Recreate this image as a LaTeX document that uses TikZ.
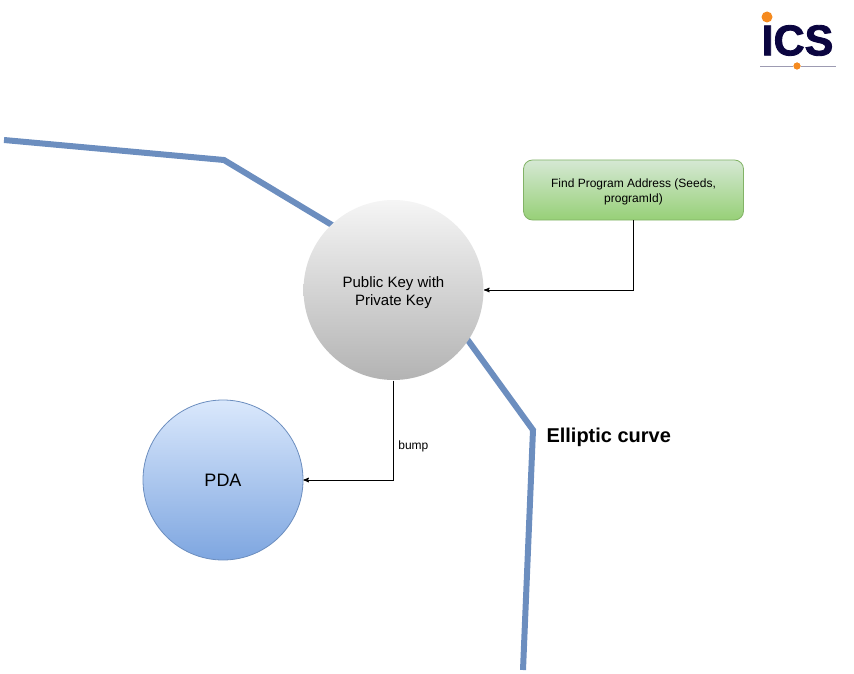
\documentclass[tikz,border=0pt]{standalone}
\usepackage{fontspec}
\setmainfont{Liberation Sans}
\newfontfamily\logofont[FakeBold=2]{Liberation Sans Bold}
\usetikzlibrary{arrows,positioning}
\definecolor{curveblue}{HTML}{6C8EBF}
\definecolor{pdatop}{HTML}{DAE8FC}
\definecolor{pdabottom}{HTML}{7EA6E0}
\definecolor{keytop}{HTML}{F5F5F5}
\definecolor{keybottom}{HTML}{B3B3B3}
\definecolor{findtop}{HTML}{D5E8D4}
\definecolor{findbottom}{HTML}{97D077}
\definecolor{findline}{HTML}{82B366}
\definecolor{logonavy}{HTML}{0B0540}
\definecolor{logoorange}{HTML}{F58A1F}
\tikzset{
  keycircle/.style={circle,inner sep=0pt,align=center,font=\fontsize{15}{18}\selectfont},
  curveline/.style={curveblue,line width=6pt,line join=miter},
  logodot/.style={circle,fill=logoorange,inner sep=0pt,minimum size=#1},
}
\begin{document}
\begin{tikzpicture}[>=stealth',x=1pt,y=-1pt,line width=1pt]

                \useasboundingbox (0,0) rectangle (854,674);

                \coordinate (c1) at (4,140);
                \coordinate (c2) at (224,160);
                \coordinate (c3) at (425,281);
                \coordinate (c4) at (533,430);
                \coordinate (c5) at (523,670);

                \draw[curveline] (c1) -- (c2) -- (c3) -- (c4) -- (c5);

                \node[keycircle,minimum size=180pt,top color=keytop,bottom color=keybottom] (pubkey) at (393.5,290) {\rule{0pt}{16pt}Public Key with\\Private Key};

                \node[keycircle,draw=curveblue,line width=0.8pt,minimum size=160pt,top color=pdatop,bottom color=pdabottom,font=\fontsize{18}{20}\selectfont] (pda) at (223,480) {PDA};

                \node[draw=findline,line width=0.8pt,rounded corners=9pt,minimum width=220pt,minimum height=60pt,inner sep=0pt,align=center,top color=findtop,bottom color=findbottom,font=\fontsize{12}{15}\selectfont] (find) at (633.5,190) {\rule{0pt}{13pt}Find Program Address (Seeds,\\programId)};

                \node[anchor=west,inner sep=0pt,font=\fontsize{20}{22}\selectfont\bfseries] (curve) at (546,437) {Elliptic curve};

                \draw[->] (find.south) |- (pubkey.east);
                \draw[->] (pubkey.south) |- node[pos=0.3,right,xshift=1pt,yshift=-6pt,font=\fontsize{12}{14}\selectfont] {bump} (pda.east);

                % logo
                \node[font=\fontsize{43}{43}\logofont,text=logonavy,inner sep=0pt] (ics) at (797.5,40.5) {ICS};
                \node[logodot=11pt] (icsdot) at (767,17) {};
                \node[logodot=7pt] (icsbase) at (797,66) {};
                \coordinate (baseleft) at (760,66);
                \coordinate (baseright) at (836,66);
                \draw[logonavy!40,line width=0.8pt] (baseleft) -- (icsbase) -- (baseright);
                \node[logodot=7pt] at (icsbase) {};

            \end{tikzpicture}
\end{document}
